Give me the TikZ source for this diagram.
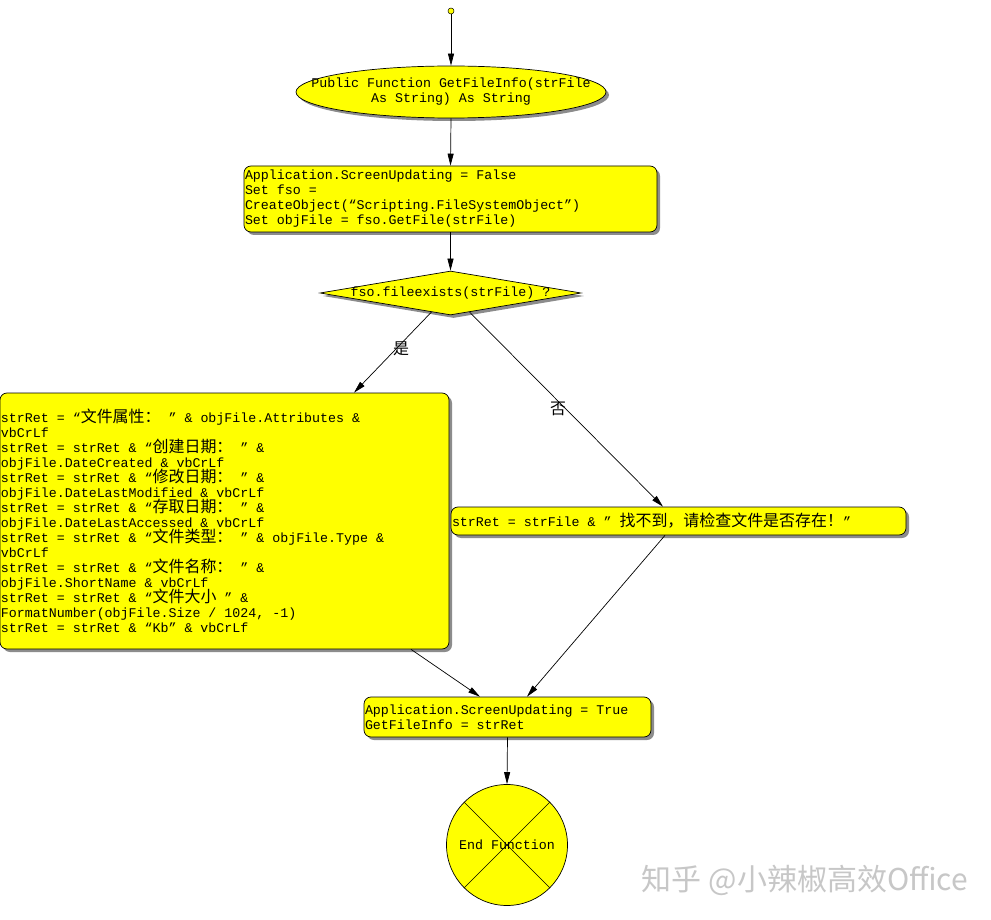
\documentclass[tikz,border=0pt]{standalone}
\usepackage{fontspec}
\setmonofont{Liberation Mono}
\newfontfamily\cjk[Scale=1.2]{Noto Sans CJK SC}
\newfontfamily\wmfont{Noto Sans CJK SC}
\usetikzlibrary{shapes.geometric,arrows.meta,shadows,calc}
\definecolor{fcyellow}{RGB}{255,255,0}
\newcommand{\codefont}{\fontsize{13.3}{15}\selectfont\ttfamily}
\newcommand{\tightlines}{\lineskiplimit=-20pt\relax\lineskip=0pt\relax\parskip=0pt\relax\spaceskip=7.98pt\relax\xspaceskip=7.98pt\relax}
\begin{document}
\begin{tikzpicture}[x=1pt,y=-1pt,
  code/.style={font=\codefont,execute at begin node=\tightlines},
  shade3/.style={drop shadow={shadow xshift=3pt,shadow yshift=-3pt,fill=black!45,opacity=1}},
  shp/.style={code,draw=black,line width=0.7pt,fill=fcyellow},
  proc/.style={shp,rounded corners=7pt,align=left,inner xsep=1pt,inner ysep=0pt,shade3},
  arr/.style={-{Triangle[length=12pt,width=6pt]},line width=0.7pt},
  lbl/.style={font=\fontsize{13.3}{15}\selectfont\cjk}
]
\fill[white] (0,0) rectangle (991,920);
\useasboundingbox (0,0) rectangle (991,920);

\node[circle,draw=black,fill=fcyellow,minimum size=6pt,inner sep=0pt,line width=0.5pt] (start) at (451,11) {};

\node[shp,ellipse,minimum width=310,minimum height=52,inner sep=0pt,shade3] (fn) at (451,92) {};
\node[code,align=center,inner sep=0pt] (fntxt) at (fn.center)
  {Public Function GetFileInfo(strFile\\As String) As String};

\node[proc,minimum width=413,minimum height=66,text width=411] (b1) at (450.5,199)
  {Application.ScreenUpdating = False\\Set fso =\\CreateObject(“Scripting.FileSystemObject”)\\Set objFile = fso.GetFile(strFile)};

\node[shp,diamond,minimum width=261,minimum height=44,inner sep=0pt,shade3] (dia) at (450.5,293)
  {\makebox[0pt]{fso.fileexists(strFile) ?}};

\node[proc,minimum width=449,minimum height=256,text width=447] (b2) at (224.5,521)
  {strRet = “{\cjk 文件属性：} ” \& objFile.Attributes \&\\
   vbCrLf\\
   strRet = strRet \& “{\cjk 创建日期：} ” \&\\
   objFile.DateCreated \& vbCrLf\\
   strRet = strRet \& “{\cjk 修改日期：} ” \&\\
   objFile.DateLastModified \& vbCrLf\\
   strRet = strRet \& “{\cjk 存取日期：} ” \&\\
   objFile.DateLastAccessed \& vbCrLf\\
   strRet = strRet \& “{\cjk 文件类型：} ” \& objFile.Type \&\\
   vbCrLf\\
   strRet = strRet \& “{\cjk 文件名称：} ” \&\\
   objFile.ShortName \& vbCrLf\\
   strRet = strRet \& “{\cjk 文件大小} ” \&\\
   FormatNumber(objFile.Size / 1024, -1)\\
   strRet = strRet \& “Kb” \& vbCrLf};

\node[proc,minimum width=455,minimum height=28,text width=453] (b3) at (678.5,521)
  {strRet = strFile \& ” {\cjk 找不到，请检查文件是否存在！}”};

\node[proc,minimum width=287,minimum height=40,text width=285] (b4) at (507.5,717)
  {Application.ScreenUpdating = True\\GetFileInfo = strRet};

\node[shp,circle,minimum size=121,inner sep=0pt] (endf) at (507,845) {};
\draw[line width=0.5pt] (endf.north west) -- (endf.south east);
\draw[line width=0.5pt] (endf.north east) -- (endf.south west);
\node[code] (endtxt) at (endf.center) {End Function};

\node[lbl] (yes) at (401,349) {是};
\node[lbl] (no) at (558,409) {否};

\draw[arr] (start.south) -- (fn.north);
\draw[arr] (fn.south) -- (b1.north);
\draw[arr] (b1.south) -- (dia.north);
\draw[arr] (dia.225) -- ($(b2.north)+(129.5,0)$);
\draw[arr] (dia.-45) -- ($(b3.north)+(-15.5,0)$);
\draw[arr] ($(b2.south)+(186.5,0)$) -- ($(b4.north)+(-27.5,0)$);
\draw[arr] ($(b3.south)+(-13.5,0)$) -- ($(b4.north)+(19.5,0)$);
\draw[arr] (b4.south) -- (endf.north);

\node[font=\wmfont\fontsize{30}{30}\selectfont,text=black!22] (wm) at (805,880) {知乎 @小辣椒高效Office};
\end{tikzpicture}
\end{document}
